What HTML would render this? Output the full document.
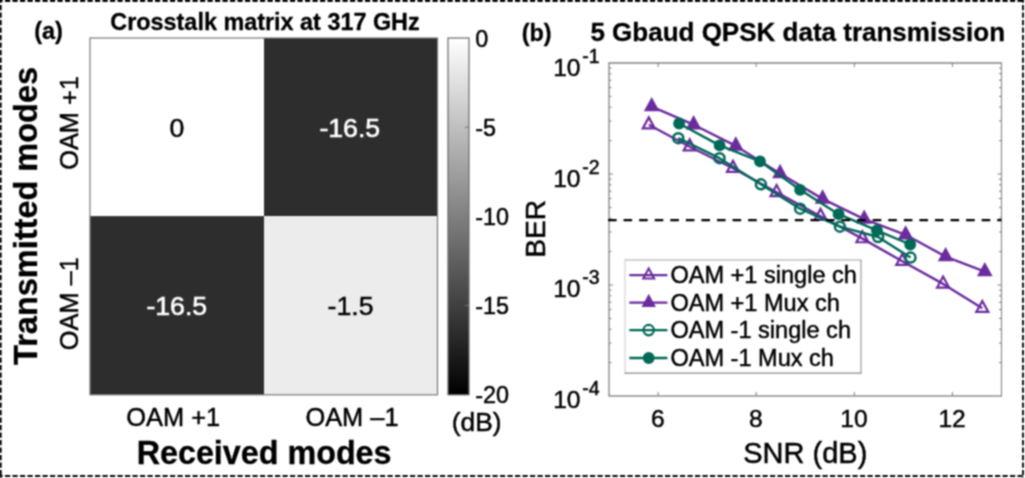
<!DOCTYPE html>
<html lang="en"><head><meta charset="utf-8"><title>Figure</title>
<style>
html,body{margin:0;padding:0;background:#fff;}
body{width:1025px;height:478px;overflow:hidden;}
svg{display:block;}
text{font-family:"Liberation Sans",sans-serif;fill:#000;stroke:#000;stroke-width:0.45px;}
.b{font-weight:bold;stroke-width:0.3px;}
</style></head><body>
<svg width="1025" height="478" viewBox="0 0 1025 478">
<defs>
<linearGradient id="cb" x1="0" y1="0" x2="0" y2="1"><stop offset="0" stop-color="#ffffff"/><stop offset="1" stop-color="#000000"/></linearGradient>
<filter id="soft" x="0" y="0" width="1025" height="478" filterUnits="userSpaceOnUse" color-interpolation-filters="sRGB"><feConvolveMatrix order="3" kernelMatrix="1 2 1 2 4 2 1 2 1" edgeMode="duplicate" preserveAlpha="true"/></filter>
</defs>
<g filter="url(#soft)">
<rect x="-5" y="-5" width="1035" height="488" fill="#fff"/>

<g stroke="#0a0a0a" stroke-dasharray="5.2 2.3" stroke-dashoffset="2.5" fill="none">
<line x1="0" y1="1.0" x2="1025" y2="1.0" stroke-width="2.2"/>
<line x1="0" y1="476" x2="1025" y2="476" stroke-width="1.9"/>
<line x1="0.8" y1="0" x2="0.8" y2="478" stroke-width="1.8"/>
<line x1="1023" y1="0" x2="1023" y2="478" stroke-width="1.9"/>
</g>
<g>
<rect x="90" y="38" width="174" height="178.1" fill="#ffffff"/>
<rect x="264" y="38" width="173.5" height="178.1" fill="#2d2d2d"/>
<rect x="90" y="216.1" width="174" height="178.7" fill="#2d2d2d"/>
<rect x="264" y="216.1" width="173.5" height="178.7" fill="#ececec"/>
<rect x="90" y="38" width="347.5" height="356.8" fill="none" stroke="#7a7a7a" stroke-width="1.2"/>
</g>
<g font-size="26.7" text-anchor="middle">
<text x="176.8" y="136.8">0</text>
<text x="349.8" y="136.9" style="fill:#fff;stroke:#fff;stroke-width:0.6px">-16.5</text>
<text x="176.8" y="315" style="fill:#fff;stroke:#fff;stroke-width:0.6px">-16.5</text>
<text x="350.5" y="315">-1.5</text>
</g>
<text class="b" x="34.2" y="39.1" font-size="23.5">(a)</text>
<text class="b" x="265" y="30.4" font-size="23.4" text-anchor="middle">Crosstalk matrix at 317 GHz</text>
<text class="b" x="264.1" y="463.6" font-size="32.3" text-anchor="middle">Received modes</text>
<text class="b" transform="translate(36.8 215.9) rotate(-90)" font-size="32.5" text-anchor="middle">Transmitted modes</text>
<g font-size="25.4" text-anchor="middle">
<text x="173.2" y="426.3">OAM +1</text>
<text x="352" y="426.3">OAM –1</text>
<text transform="translate(78.4 122.9) rotate(-90)">OAM +1</text>
<text transform="translate(78.4 303.7) rotate(-90)">OAM –1</text>
</g>
<rect x="448" y="38" width="21" height="356.8" fill="url(#cb)" stroke="#6a6a6a" stroke-width="1.2"/>
<g stroke="#777" stroke-width="1">
<line x1="465" y1="127.2" x2="469" y2="127.2"/>
<line x1="465" y1="216.4" x2="469" y2="216.4"/>
<line x1="465" y1="305.6" x2="469" y2="305.6"/>
</g>
<g font-size="23.4">
<text x="475.3" y="46.9">0</text>
<text x="475.2" y="135.6">-5</text>
<text x="475.2" y="224.8">-10</text>
<text x="475.2" y="314.0">-15</text>
<text x="475.2" y="403.2">-20</text>
</g>
<text x="451.7" y="431" font-size="26.4">(dB)</text>
<text class="b" x="521.8" y="40.6" font-size="23.4">(b)</text>
<text class="b" x="590.4" y="40.8" font-size="26">5 Gbaud QPSK data transmission</text>
<rect x="609" y="63" width="392.5" height="333" fill="#fff" stroke="none"/>
<g stroke-width="1.2">
<line x1="608.5" y1="63" x2="1002.0" y2="63" stroke="#484848"/>
<line x1="608.5" y1="396" x2="1002.0" y2="396" stroke="#585858"/>
<line x1="609" y1="63" x2="609" y2="396" stroke="#777"/>
<line x1="1001.5" y1="63" x2="1001.5" y2="396" stroke="#909090"/>
</g>
<g stroke="#808080" stroke-width="1">
<line x1="658.1" y1="396" x2="658.1" y2="392"/>
<line x1="658.1" y1="63" x2="658.1" y2="67"/>
<line x1="756.2" y1="396" x2="756.2" y2="392"/>
<line x1="756.2" y1="63" x2="756.2" y2="67"/>
<line x1="854.3" y1="396" x2="854.3" y2="392"/>
<line x1="854.3" y1="63" x2="854.3" y2="67"/>
<line x1="952.4" y1="396" x2="952.4" y2="392"/>
<line x1="952.4" y1="63" x2="952.4" y2="67"/>
<line x1="609" y1="140.6" x2="611.5" y2="140.6"/>
<line x1="1001.5" y1="140.6" x2="999.0" y2="140.6"/>
<line x1="609" y1="121.0" x2="611.5" y2="121.0"/>
<line x1="1001.5" y1="121.0" x2="999.0" y2="121.0"/>
<line x1="609" y1="107.2" x2="611.5" y2="107.2"/>
<line x1="1001.5" y1="107.2" x2="999.0" y2="107.2"/>
<line x1="609" y1="96.4" x2="611.5" y2="96.4"/>
<line x1="1001.5" y1="96.4" x2="999.0" y2="96.4"/>
<line x1="609" y1="87.6" x2="611.5" y2="87.6"/>
<line x1="1001.5" y1="87.6" x2="999.0" y2="87.6"/>
<line x1="609" y1="80.2" x2="611.5" y2="80.2"/>
<line x1="1001.5" y1="80.2" x2="999.0" y2="80.2"/>
<line x1="609" y1="73.8" x2="611.5" y2="73.8"/>
<line x1="1001.5" y1="73.8" x2="999.0" y2="73.8"/>
<line x1="609" y1="68.1" x2="611.5" y2="68.1"/>
<line x1="1001.5" y1="68.1" x2="999.0" y2="68.1"/>
<line x1="609" y1="251.6" x2="611.5" y2="251.6"/>
<line x1="1001.5" y1="251.6" x2="999.0" y2="251.6"/>
<line x1="609" y1="232.0" x2="611.5" y2="232.0"/>
<line x1="1001.5" y1="232.0" x2="999.0" y2="232.0"/>
<line x1="609" y1="218.2" x2="611.5" y2="218.2"/>
<line x1="1001.5" y1="218.2" x2="999.0" y2="218.2"/>
<line x1="609" y1="207.4" x2="611.5" y2="207.4"/>
<line x1="1001.5" y1="207.4" x2="999.0" y2="207.4"/>
<line x1="609" y1="198.6" x2="611.5" y2="198.6"/>
<line x1="1001.5" y1="198.6" x2="999.0" y2="198.6"/>
<line x1="609" y1="191.2" x2="611.5" y2="191.2"/>
<line x1="1001.5" y1="191.2" x2="999.0" y2="191.2"/>
<line x1="609" y1="184.8" x2="611.5" y2="184.8"/>
<line x1="1001.5" y1="184.8" x2="999.0" y2="184.8"/>
<line x1="609" y1="179.1" x2="611.5" y2="179.1"/>
<line x1="1001.5" y1="179.1" x2="999.0" y2="179.1"/>
<line x1="609" y1="362.6" x2="611.5" y2="362.6"/>
<line x1="1001.5" y1="362.6" x2="999.0" y2="362.6"/>
<line x1="609" y1="343.0" x2="611.5" y2="343.0"/>
<line x1="1001.5" y1="343.0" x2="999.0" y2="343.0"/>
<line x1="609" y1="329.2" x2="611.5" y2="329.2"/>
<line x1="1001.5" y1="329.2" x2="999.0" y2="329.2"/>
<line x1="609" y1="318.4" x2="611.5" y2="318.4"/>
<line x1="1001.5" y1="318.4" x2="999.0" y2="318.4"/>
<line x1="609" y1="309.6" x2="611.5" y2="309.6"/>
<line x1="1001.5" y1="309.6" x2="999.0" y2="309.6"/>
<line x1="609" y1="302.2" x2="611.5" y2="302.2"/>
<line x1="1001.5" y1="302.2" x2="999.0" y2="302.2"/>
<line x1="609" y1="295.8" x2="611.5" y2="295.8"/>
<line x1="1001.5" y1="295.8" x2="999.0" y2="295.8"/>
<line x1="609" y1="290.1" x2="611.5" y2="290.1"/>
<line x1="1001.5" y1="290.1" x2="999.0" y2="290.1"/>
<line x1="609" y1="174.0" x2="613" y2="174.0"/>
<line x1="1001.5" y1="174.0" x2="997.5" y2="174.0"/>
<line x1="609" y1="285.0" x2="613" y2="285.0"/>
<line x1="1001.5" y1="285.0" x2="997.5" y2="285.0"/>
</g>
<g font-size="24.6">
<text x="553.2" y="75.9">10<tspan font-size="19.5" dy="-12.8" dx="1.6">-1</tspan></text>
<text x="553.2" y="186.5">10<tspan font-size="19.5" dy="-12.8" dx="1.6">-2</tspan></text>
<text x="553.2" y="297.0">10<tspan font-size="19.5" dy="-12.8" dx="1.6">-3</tspan></text>
<text x="553.2" y="407.6">10<tspan font-size="19.5" dy="-12.8" dx="1.6">-4</tspan></text>
<text x="657.8" y="427" text-anchor="middle">6</text>
<text x="755.9" y="427" text-anchor="middle">8</text>
<text x="854.0" y="427" text-anchor="middle">10</text>
<text x="952.1" y="427" text-anchor="middle">12</text>
</g>
<text x="805.3" y="462.7" font-size="29" text-anchor="middle">SNR (dB)</text>
<text transform="translate(545 228.8) rotate(-90)" font-size="28.2" text-anchor="middle">BER</text>
<polyline fill="none" stroke="#6c2c9e" stroke-width="2.4" stroke-linejoin="round" points="648.8,124.7 689.7,146.7 733.0,168.2 776.6,192.4 820.5,216.2 862.4,238.6 902.3,261.3 943.1,283.9 982.3,308.3"/>
<polygon points="648.80,117.37 642.80,128.37 654.80,128.37" fill="none" stroke="#6c2c9e" stroke-width="2.2" stroke-linejoin="miter" stroke-miterlimit="10"/>
<polygon points="689.70,139.37 683.70,150.37 695.70,150.37" fill="none" stroke="#6c2c9e" stroke-width="2.2" stroke-linejoin="miter" stroke-miterlimit="10"/>
<polygon points="733.00,160.87 727.00,171.87 739.00,171.87" fill="none" stroke="#6c2c9e" stroke-width="2.2" stroke-linejoin="miter" stroke-miterlimit="10"/>
<polygon points="776.60,185.07 770.60,196.07 782.60,196.07" fill="none" stroke="#6c2c9e" stroke-width="2.2" stroke-linejoin="miter" stroke-miterlimit="10"/>
<polygon points="820.50,208.87 814.50,219.87 826.50,219.87" fill="none" stroke="#6c2c9e" stroke-width="2.2" stroke-linejoin="miter" stroke-miterlimit="10"/>
<polygon points="862.40,231.27 856.40,242.27 868.40,242.27" fill="none" stroke="#6c2c9e" stroke-width="2.2" stroke-linejoin="miter" stroke-miterlimit="10"/>
<polygon points="902.30,253.97 896.30,264.97 908.30,264.97" fill="none" stroke="#6c2c9e" stroke-width="2.2" stroke-linejoin="miter" stroke-miterlimit="10"/>
<polygon points="943.10,276.57 937.10,287.57 949.10,287.57" fill="none" stroke="#6c2c9e" stroke-width="2.2" stroke-linejoin="miter" stroke-miterlimit="10"/>
<polygon points="982.30,300.97 976.30,311.97 988.30,311.97" fill="none" stroke="#6c2c9e" stroke-width="2.2" stroke-linejoin="miter" stroke-miterlimit="10"/>
<polyline fill="none" stroke="#6c2c9e" stroke-width="2.4" stroke-linejoin="round" points="651.7,106.6 693.6,124.7 735.8,145.9 780.0,173.5 822.6,198.9 864.2,219.1 905.6,234.8 945.6,256.6 984.8,271.6"/>
<polygon points="651.70,99.27 645.70,110.27 657.70,110.27" fill="#6c2c9e" stroke="#6c2c9e" stroke-width="2.2" stroke-linejoin="miter" stroke-miterlimit="10"/>
<polygon points="693.60,117.37 687.60,128.37 699.60,128.37" fill="#6c2c9e" stroke="#6c2c9e" stroke-width="2.2" stroke-linejoin="miter" stroke-miterlimit="10"/>
<polygon points="735.80,138.57 729.80,149.57 741.80,149.57" fill="#6c2c9e" stroke="#6c2c9e" stroke-width="2.2" stroke-linejoin="miter" stroke-miterlimit="10"/>
<polygon points="780.00,166.17 774.00,177.17 786.00,177.17" fill="#6c2c9e" stroke="#6c2c9e" stroke-width="2.2" stroke-linejoin="miter" stroke-miterlimit="10"/>
<polygon points="822.60,191.57 816.60,202.57 828.60,202.57" fill="#6c2c9e" stroke="#6c2c9e" stroke-width="2.2" stroke-linejoin="miter" stroke-miterlimit="10"/>
<polygon points="864.20,211.77 858.20,222.77 870.20,222.77" fill="#6c2c9e" stroke="#6c2c9e" stroke-width="2.2" stroke-linejoin="miter" stroke-miterlimit="10"/>
<polygon points="905.60,227.47 899.60,238.47 911.60,238.47" fill="#6c2c9e" stroke="#6c2c9e" stroke-width="2.2" stroke-linejoin="miter" stroke-miterlimit="10"/>
<polygon points="945.60,249.27 939.60,260.27 951.60,260.27" fill="#6c2c9e" stroke="#6c2c9e" stroke-width="2.2" stroke-linejoin="miter" stroke-miterlimit="10"/>
<polygon points="984.80,264.27 978.80,275.27 990.80,275.27" fill="#6c2c9e" stroke="#6c2c9e" stroke-width="2.2" stroke-linejoin="miter" stroke-miterlimit="10"/>
<polyline fill="none" stroke="#006957" stroke-width="2.4" stroke-linejoin="round" points="678.3,138.2 719.5,158.2 760.9,184.3 800.1,208.7 839.9,226.7 878.1,237.0 910.5,257.6"/>
<circle cx="678.3" cy="138.2" r="5.0" fill="none" stroke="#006957" stroke-width="2.5"/>
<circle cx="719.5" cy="158.2" r="5.0" fill="none" stroke="#006957" stroke-width="2.5"/>
<circle cx="760.9" cy="184.3" r="5.0" fill="none" stroke="#006957" stroke-width="2.5"/>
<circle cx="800.1" cy="208.7" r="5.0" fill="none" stroke="#006957" stroke-width="2.5"/>
<circle cx="839.9" cy="226.7" r="5.0" fill="none" stroke="#006957" stroke-width="2.5"/>
<circle cx="878.1" cy="237.0" r="5.0" fill="none" stroke="#006957" stroke-width="2.5"/>
<circle cx="910.5" cy="257.6" r="5.0" fill="none" stroke="#006957" stroke-width="2.5"/>
<polyline fill="none" stroke="#006957" stroke-width="2.4" stroke-linejoin="round" points="679.1,123.5 719.6,145.4 760.0,161.4 800.1,189.8 838.6,214.2 876.9,230.3 910.2,244.5"/>
<circle cx="679.1" cy="123.5" r="5.9" fill="#006957"/>
<circle cx="719.6" cy="145.4" r="5.9" fill="#006957"/>
<circle cx="760.0" cy="161.4" r="5.9" fill="#006957"/>
<circle cx="800.1" cy="189.8" r="5.9" fill="#006957"/>
<circle cx="838.6" cy="214.2" r="5.9" fill="#006957"/>
<circle cx="876.9" cy="230.3" r="5.9" fill="#006957"/>
<circle cx="910.2" cy="244.5" r="5.9" fill="#006957"/>
<line x1="608" y1="220.1" x2="1001.5" y2="220.1" stroke="#000" stroke-width="2.2" stroke-dasharray="8.6 6.97"/>
<rect x="625" y="260" width="236" height="113.19999999999999" fill="#fff" stroke="none"/>
<g stroke-width="1.2" fill="none"><path d="M624.4 260H861.6" stroke="#a4a4a4"/><path d="M625 260V373.2" stroke="#d4d4d4"/><path d="M624.4 373.2H861.6" stroke="#8a8a8a"/><path d="M861 260V373.2" stroke="#9c9c9c"/></g>
<line x1="629.3" y1="275.1" x2="667.4" y2="275.1" stroke="#6c2c9e" stroke-width="2.3"/>
<polygon points="648.70,268.43 643.20,278.43 654.20,278.43" fill="none" stroke="#6c2c9e" stroke-width="2.0" stroke-linejoin="miter" stroke-miterlimit="10"/>
<text x="670.4" y="283.2" font-size="23.55">OAM +1 single ch</text>
<line x1="629.3" y1="302.6" x2="667.4" y2="302.6" stroke="#6c2c9e" stroke-width="2.3"/>
<polygon points="648.70,295.93 643.20,305.93 654.20,305.93" fill="#6c2c9e" stroke="#6c2c9e" stroke-width="2.0" stroke-linejoin="miter" stroke-miterlimit="10"/>
<text x="670.4" y="311" font-size="23.55">OAM +1 Mux ch</text>
<line x1="629.3" y1="330.1" x2="667.4" y2="330.1" stroke="#006957" stroke-width="2.3"/>
<circle cx="648.7" cy="330.1" r="5.2" fill="none" stroke="#006957" stroke-width="2.2"/>
<text x="670.4" y="338.4" font-size="23.55">OAM -1 single ch</text>
<line x1="629.3" y1="358" x2="667.4" y2="358" stroke="#006957" stroke-width="2.3"/>
<circle cx="648.7" cy="358.0" r="5.9" fill="#006957"/>
<text x="670.4" y="366.1" font-size="23.55">OAM -1 Mux ch</text>
</g>
</svg></body></html>
